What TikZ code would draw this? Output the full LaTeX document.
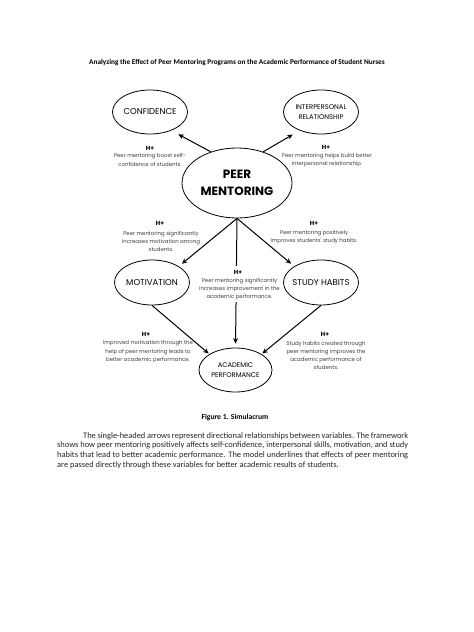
\documentclass[tikz,border=0pt]{standalone}
\usepackage{fontspec}
\setmainfont{Carlito}
\newfontfamily\pop{Poppins}
\usetikzlibrary{shapes.geometric,arrows.meta}
\begin{document}
\begin{tikzpicture}[x=1pt,y=-1pt,
 ell/.style={ellipse,draw,line width=0.8pt,minimum width=75pt,minimum height=44pt,inner sep=0pt},
 lab/.style={font=\pop\fontsize{8.5}{11.5}\selectfont,align=center,inner sep=0pt},
 small/.style={font=\pop\fontsize{6.8}{10.5}\selectfont,align=center,inner sep=0pt},
 big/.style={font=\pop\bfseries\fontsize{12}{17}\selectfont,align=center,inner sep=0pt},
 hp/.style={font=\pop\bfseries\fontsize{6}{7}\selectfont,inner sep=0.5pt},
 note/.style={font=\pop\fontsize{5.4}{8.1}\selectfont,align=center,inner sep=0.5pt,text=black!75},
 arr/.style={-{Stealth[length=5.5pt,width=5pt]},line width=1pt}
]
\fill[white] (0,0) rectangle (474,632);
\useasboundingbox (0,0) rectangle (474,632);

\node[font=\bfseries\fontsize{7.3}{9}\selectfont,inner sep=0pt] (title) at (237,63)
 {Analyzing the Effect of Peer Mentoring Programs on the Academic Performance of Student Nurses};

\node[ell,label={[lab]center:CONFIDENCE}] (conf) at (150,112) {};
\node[ell,label={[small]center:{INTERPERSONAL\\RELATIONSHIP}}] (inter) at (321,112) {};
\node[ell,minimum width=110pt,minimum height=70pt,label={[big]center:{PEER\\MENTORING}}] (pm) at (237,183) {};
\node[ell,minimum height=45pt,label={[lab]center:MOTIVATION}] (mot) at (152,282.5) {};
\node[ell,minimum height=45pt,label={[lab]center:STUDY HABITS}] (sh) at (321,282.5) {};
\node[ell,minimum width=73pt,label={[small]center:{ACADEMIC\\PERFORMANCE}}] (acad) at (235.5,370) {};

\draw[arr,shorten >=8pt] (pm.130) -- (conf.-41);
\draw[arr,shorten >=8pt] (pm.50) -- (inter.-139);
\draw[arr,shorten >=4pt] (pm.south) -- (mot.north east);
\draw[arr,shorten >=4pt] (pm.south) -- (sh.north west);
\draw[arr,shorten >=4pt] (pm.south) -- (acad.north);
\draw[arr,shorten >=1pt] (mot.south) -- (acad.north west);
\draw[arr,shorten >=1pt] (sh.south) -- (acad.north east);

\node[hp] (h1) at (150,148) {H+};
\node[note] (n1) at (150,160) {Peer mentoring boost self-\\confidence of students.};
\node[hp] (h2) at (326,147.5) {H+};
\node[note] (n2) at (327,160.5) {Peer mentoring helps build better\\interpersonal relationship.};
\node[hp] (h3) at (160,223.3) {H+};
\node[note] (n3) at (161,241.5) {Peer mentoring significantly\\increases motivation among\\students.};
\node[hp] (h4) at (314,223.3) {H+};
\node[note] (n4) at (314,237.5) {Peer mentoring positively\\improves students' study habits.};
\node[hp,fill=white,inner ysep=4pt] (h5) at (238,272.3) {H+};
\node[note,fill=white,inner ysep=2pt] (n5) at (239.5,289.5) {Peer mentoring significantly\\increases improvement in the\\academic performance.};
\node[hp] (h6) at (146,334.3) {H+};
\node[note] (n6) at (148,351.7) {Improved motivation through the\\help of peer mentoring leads to\\better academic performance.};
\node[hp] (h7) at (325,334.3) {H+};
\node[note] (n7) at (326,355.5) {Study habits created through\\peer mentoring improves the\\academic performance of\\students.};

\node[font=\bfseries\fontsize{7.6}{9}\selectfont,inner sep=0pt] (fig) at (235,417) {Figure 1. Simulacrum};

\node[anchor=north west,text width=351pt,align=justify,inner sep=0pt,text=black!85,
 font=\fontsize{8.4}{9.7}\selectfont] (para) at (57,432)
 {\hspace*{26pt}The single-headed arrows represent directional relationships between variables. The framework shows how peer mentoring positively affects self-confidence, interpersonal skills, motivation, and study habits that lead to better academic performance. The model underlines that effects of peer mentoring are passed directly through these variables for better academic results of students.};
\end{tikzpicture}
\end{document}
